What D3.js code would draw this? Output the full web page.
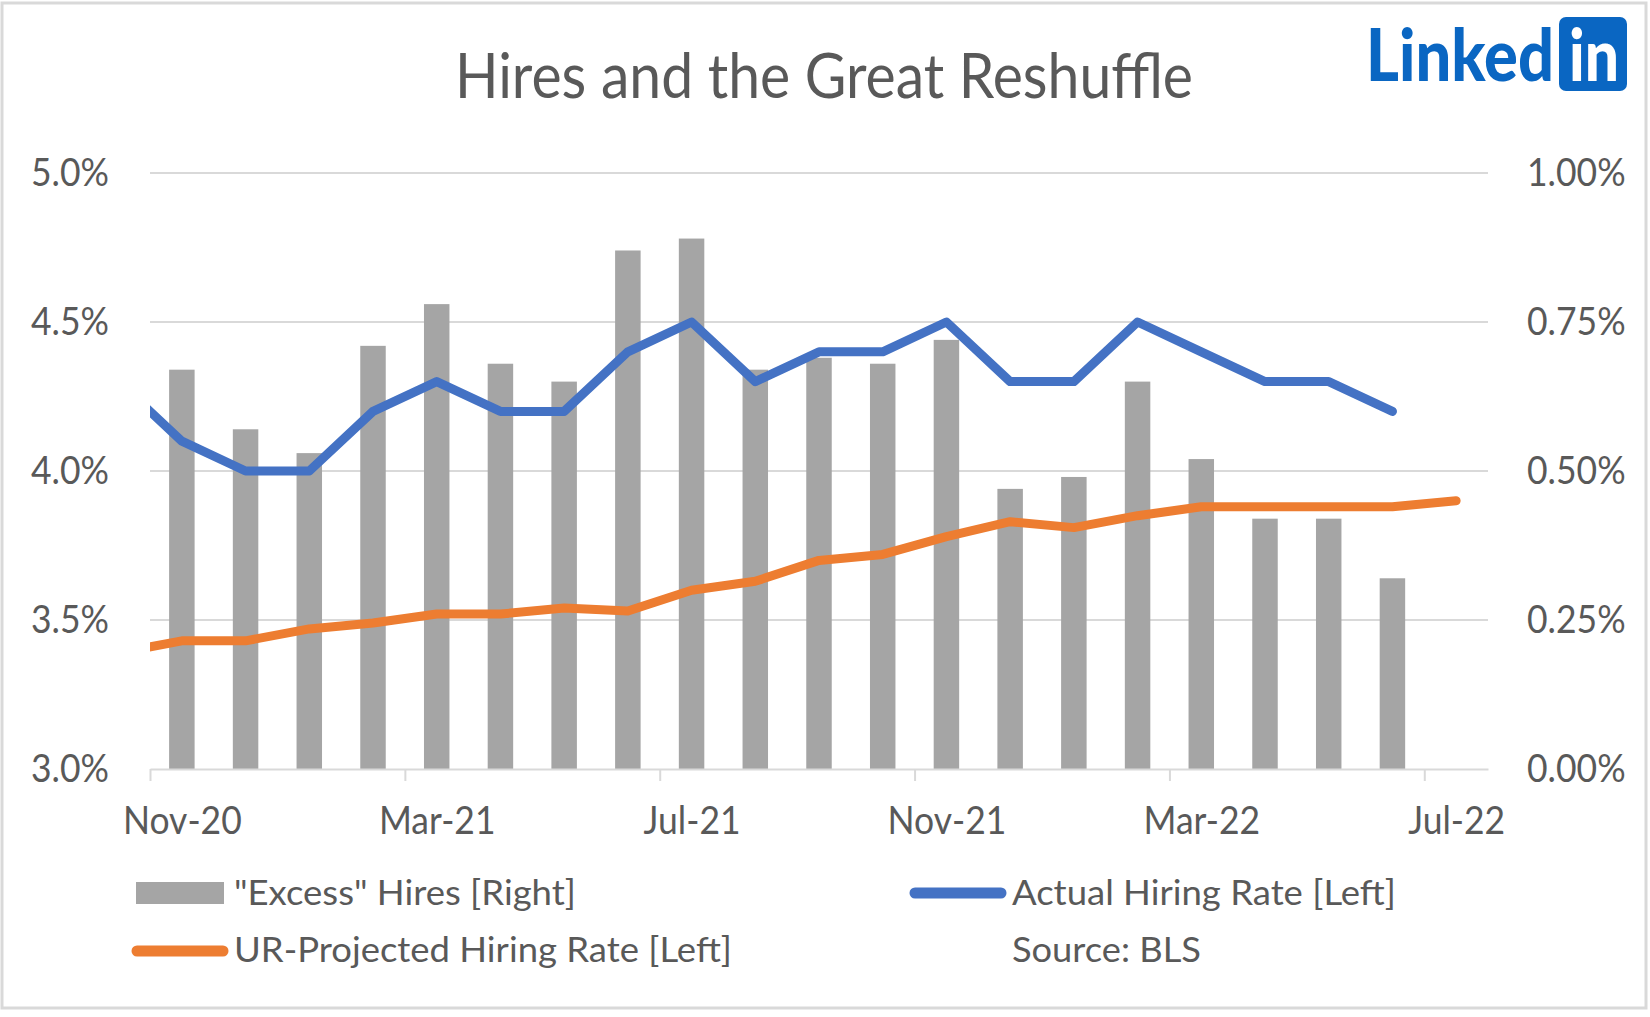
<!DOCTYPE html>
<html>
<head>
<meta charset="utf-8">
<script src="https://cdn.jsdelivr.net/npm/d3@7"></script>
<style>
    body { margin: 0; background: #fff; }
    text { font-family: Lato, 'Open Sans', sans-serif; fill: #595959; }
</style>
</head>
<body>
<svg id="chart" width="1650" height="1017"></svg>
<script>
// Months on the x axis (Nov-20 .. Jul-22)
const months = ['Nov-20', 'Dec-20', 'Jan-21', 'Feb-21', 'Mar-21', 'Apr-21', 'May-21', 'Jun-21',
    'Jul-21', 'Aug-21', 'Sep-21', 'Oct-21', 'Nov-21', 'Dec-21', 'Jan-22', 'Feb-22', 'Mar-22',
    'Apr-22', 'May-22', 'Jun-22', 'Jul-22'];

// "Excess" hires, right axis, Nov-20 .. Jun-22
const excessHires = [0.67, 0.57, 0.53, 0.71, 0.78, 0.68, 0.65, 0.87, 0.89, 0.67, 0.69,
    0.68, 0.72, 0.47, 0.49, 0.65, 0.52, 0.42, 0.42, 0.32];

// Line series start one month before the axis (Oct-20), the chart clips them
const lineStart = -1;
// Actual hiring rate, left axis, Oct-20 .. Jun-22
const actualRate = [4.3, 4.1, 4.0, 4.0, 4.2, 4.3, 4.2, 4.2, 4.4, 4.5, 4.3, 4.4,
    4.4, 4.5, 4.3, 4.3, 4.5, 4.4, 4.3, 4.3, 4.2];
// UR-projected hiring rate, left axis, Oct-20 .. Jul-22
const projectedRate = [3.39, 3.43, 3.43, 3.47, 3.49, 3.52, 3.52, 3.54, 3.53, 3.60, 3.63,
    3.70, 3.72, 3.78, 3.83, 3.81, 3.85, 3.88, 3.88, 3.88, 3.88, 3.90];

const leftTicks = [3.0, 3.5, 4.0, 4.5, 5.0];
const rightTicks = [0, 0.25, 0.5, 0.75, 1.0];

const colors = {bar: '#a5a5a5', actual: '#4472c4', projected: '#ed7d31', grid: '#d9d9d9', text: '#595959'};

const svg = d3.select('#chart');
const plot = {left: 150, right: 1488, top: 173, bottom: 769};

// Squeeze a text to a narrower width, the original font is condensed
function condense(sel, factor) {
    sel.each(function() {
        const w = this.getComputedTextLength();
        d3.select(this)
            .attr('textLength', w * factor)
            .attr('lengthAdjust', 'spacingAndGlyphs');
    });
}

// Scales
const x = d3.scaleLinear()
    .domain([-0.5, months.length - 0.5])
    .range([plot.left, plot.right]);
const yLeft = d3.scaleLinear().domain([3, 5]).range([plot.bottom, plot.top]);
const yRight = d3.scaleLinear().domain([0, 1]).range([plot.bottom, plot.top]);
const step = x(1) - x(0);
const barW = step * 0.4;

// Outer frame
svg.append('rect')
    .attr('x', 2).attr('y', 3)
    .attr('width', 1644).attr('height', 1005)
    .style('fill', 'none')
    .style('stroke', colors.grid)
    .style('stroke-width', 3);

// Title
svg.append('text')
    .attr('x', 824).attr('y', 98)
    .attr('text-anchor', 'middle')
    .attr('textLength', 738)
    .attr('lengthAdjust', 'spacingAndGlyphs')
    .style('font-size', '62px')
    .text('Hires and the Great Reshuffle');

// LinkedIn logo
const logo = svg.append('g');
logo.append('text')
    .attr('x', 1366).attr('y', 81)
    .attr('textLength', 188)
    .attr('lengthAdjust', 'spacingAndGlyphs')
    .style('font-size', '72px')
    .style('font-weight', 900)
    .style('fill', '#0a66c2')
    .text('Linked');
logo.append('rect')
    .attr('x', 1559).attr('y', 17)
    .attr('width', 68).attr('height', 74)
    .attr('rx', 7)
    .style('fill', '#0a66c2');
logo.append('text')
    .attr('x', 1594).attr('y', 81)
    .attr('text-anchor', 'middle')
    .attr('textLength', 50)
    .attr('lengthAdjust', 'spacingAndGlyphs')
    .style('font-size', '72px')
    .style('font-weight', 900)
    .style('fill', '#fff')
    .text('in');

// Gridlines
svg.append('g')
    .selectAll('line')
    .data(leftTicks.slice(1))
    .enter()
    .append('line')
    .attr('x1', plot.left).attr('x2', plot.right)
    .attr('y1', d => yLeft(d)).attr('y2', d => yLeft(d))
    .style('stroke', colors.grid)
    .style('stroke-width', 2);

// Bars
svg.append('g')
    .selectAll('rect')
    .data(excessHires)
    .enter()
    .append('rect')
    .attr('x', (d, i) => x(i) - barW / 2)
    .attr('y', d => yRight(d))
    .attr('width', barW)
    .attr('height', d => yRight(0) - yRight(d))
    .style('fill', colors.bar);

// Bottom axis: tick marks at month boundaries, labels every 4 months
const tickAxis = svg.append('g')
    .attr('transform', `translate(0, ${plot.bottom})`)
    .call(d3.axisBottom(x)
        .tickValues(d3.range(-0.5, months.length - 1, 4))
        .tickSize(12)
        .tickSizeOuter(0)
        .tickFormat(''));
tickAxis.selectAll('path, line')
    .style('stroke', colors.grid)
    .style('stroke-width', 2);

const labelAxis = svg.append('g')
    .attr('transform', `translate(0, ${plot.bottom})`)
    .call(d3.axisBottom(x)
        .tickValues(d3.range(0, months.length, 4))
        .tickSize(0)
        .tickPadding(37)
        .tickFormat(i => months[i]));
labelAxis.select('.domain').remove();

// Left axis
const leftAxis = svg.append('g')
    .attr('transform', `translate(${plot.left}, 0)`)
    .call(d3.axisLeft(yLeft)
        .tickValues(leftTicks)
        .tickSize(0)
        .tickPadding(41)
        .tickFormat(d => d.toFixed(1) + '%'));
leftAxis.select('.domain').remove();

// Right axis
const rightAxis = svg.append('g')
    .attr('transform', `translate(${plot.right}, 0)`)
    .call(d3.axisRight(yRight)
        .tickValues(rightTicks)
        .tickSize(0)
        .tickPadding(39)
        .tickFormat(d => d.toFixed(2) + '%'));
rightAxis.select('.domain').remove();

svg.selectAll('.tick text')
    .style('font-family', 'Lato, sans-serif')
    .style('font-size', '39px')
    .style('fill', colors.text)
    .call(condense, 0.91);

// Lines, clipped to the plot area
svg.append('clipPath')
    .attr('id', 'plot-clip')
    .append('rect')
    .attr('x', plot.left).attr('y', 0)
    .attr('width', plot.right - plot.left).attr('height', 1017);

const line = d3.line()
    .x((d, i) => x(i + lineStart))
    .y(d => yLeft(d));

const lineGroup = svg.append('g').attr('clip-path', 'url(#plot-clip)');
[[projectedRate, colors.projected], [actualRate, colors.actual]].forEach(([values, color]) => {
    lineGroup.append('path')
        .datum(values)
        .attr('d', line)
        .style('fill', 'none')
        .style('stroke', color)
        .style('stroke-width', 9)
        .style('stroke-linejoin', 'round')
        .style('stroke-linecap', 'round');
});

// Legend
const legend = svg.append('g').style('font-size', '34px');

legend.append('rect')
    .attr('x', 136).attr('y', 882)
    .attr('width', 88).attr('height', 22)
    .style('fill', colors.bar);
legend.append('text').attr('x', 234).attr('y', 905)
    .attr('textLength', 342).attr('lengthAdjust', 'spacingAndGlyphs')
    .text('"Excess" Hires [Right]');

legend.append('line')
    .attr('x1', 137).attr('x2', 223)
    .attr('y1', 951).attr('y2', 951)
    .style('stroke', colors.projected)
    .style('stroke-width', 11)
    .style('stroke-linecap', 'round');
legend.append('text').attr('x', 234).attr('y', 962)
    .attr('textLength', 498).attr('lengthAdjust', 'spacingAndGlyphs')
    .text('UR-Projected Hiring Rate [Left]');

legend.append('line')
    .attr('x1', 915).attr('x2', 1001)
    .attr('y1', 893).attr('y2', 893)
    .style('stroke', colors.actual)
    .style('stroke-width', 11)
    .style('stroke-linecap', 'round');
legend.append('text').attr('x', 1012).attr('y', 905)
    .attr('textLength', 384).attr('lengthAdjust', 'spacingAndGlyphs')
    .text('Actual Hiring Rate [Left]');

legend.append('text').attr('x', 1012).attr('y', 962)
    .attr('textLength', 189).attr('lengthAdjust', 'spacingAndGlyphs')
    .text('Source: BLS');
</script>
</body>
</html>
